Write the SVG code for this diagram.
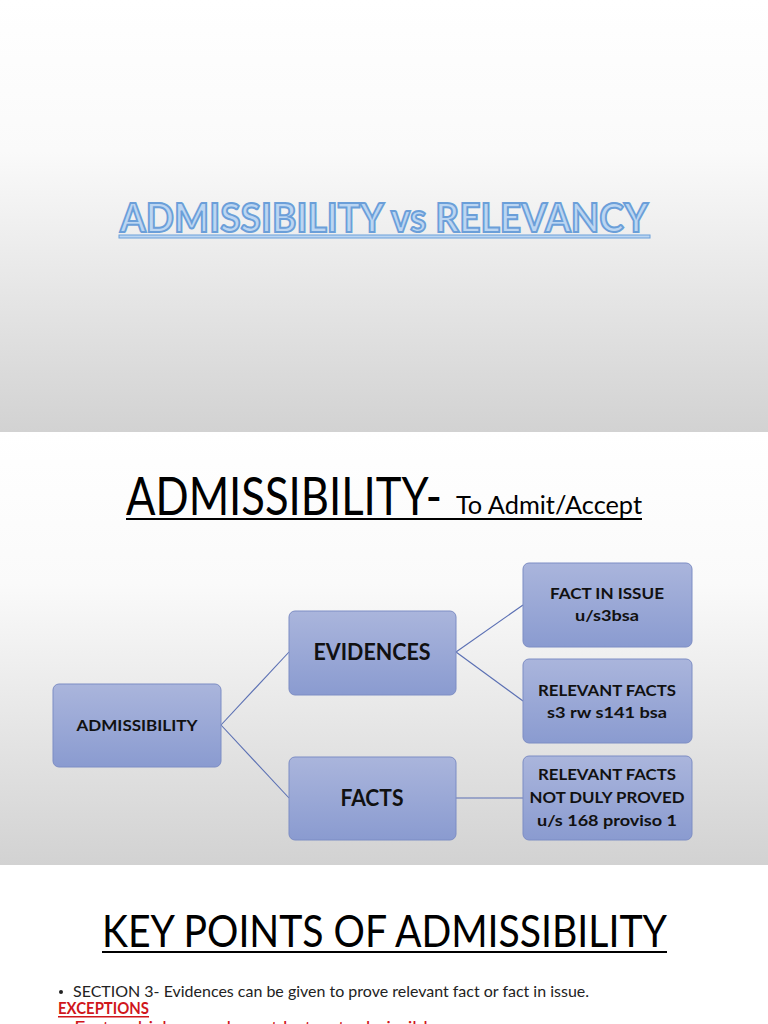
<svg xmlns="http://www.w3.org/2000/svg" width="768" height="1024" viewBox="0 0 768 1024">
<defs>
<linearGradient id="bg" x1="0" y1="0" x2="0" y2="1">
<stop offset="0" stop-color="#ffffff"/>
<stop offset="0.35" stop-color="#fafafa"/>
<stop offset="1" stop-color="#d2d2d2"/>
</linearGradient>
<linearGradient id="nodeFill" x1="0" y1="0" x2="0" y2="1">
<stop offset="0" stop-color="#aab5dc"/>
<stop offset="1" stop-color="#8a9bd0"/>
</linearGradient>
<style>
.t{font-family:Lato,"Open Sans","Liberation Sans",sans-serif}
.node rect{fill:url(#nodeFill);stroke:#7d8dc4;stroke-width:1}
.node text{font-family:Lato,"Open Sans","Liberation Sans",sans-serif;font-weight:bold;fill:#111;text-anchor:middle}
.conn line{stroke:#5a6fb3;stroke-width:1.1}
</style>
</defs>
<rect x="0" y="0" width="768" height="1024" fill="#ffffff"/>
<rect x="0" y="0" width="768" height="432" fill="url(#bg)"/>
<rect x="0" y="432" width="768" height="433" fill="url(#bg)"/>
<rect x="0" y="865" width="768" height="159" fill="#ffffff"/>

<g id="title1">
<text class="t" x="384" y="232" font-size="41" font-weight="bold" text-anchor="middle" fill="#bcd6f2" stroke="#6b9fd9" stroke-width="2" textLength="528" lengthAdjust="spacingAndGlyphs">ADMISSIBILITY vs RELEVANCY</text>
<rect x="119" y="235" width="531" height="3" fill="#bcd6f2" stroke="#6b9fd9" stroke-width="1"/>
</g>

<g id="title2">
<text class="t" x="126" y="515" font-size="52" fill="#000" textLength="316" lengthAdjust="spacingAndGlyphs">ADMISSIBILITY-</text>
<text class="t" x="456" y="514" font-size="25" fill="#000" textLength="186" lengthAdjust="spacingAndGlyphs">To Admit/Accept</text>
<rect x="126" y="518" width="516" height="2" fill="#000"/>
</g>

<g class="conn" id="connectors">
<line x1="221" y1="725" x2="289" y2="652"/>
<line x1="221" y1="725" x2="289" y2="798"/>
<line x1="456" y1="652" x2="523" y2="605"/>
<line x1="456" y1="652" x2="523" y2="701"/>
<line x1="456" y1="798" x2="523" y2="798"/>
</g>

<g class="node" id="n-admissibility">
<rect x="53" y="684" width="168" height="83" rx="6"/>
<text x="137" y="731" font-size="16" textLength="121" lengthAdjust="spacingAndGlyphs">ADMISSIBILITY</text>
</g>
<g class="node" id="n-evidences">
<rect x="289" y="611" width="167" height="84" rx="6"/>
<text x="372" y="660" font-size="22" textLength="117" lengthAdjust="spacingAndGlyphs">EVIDENCES</text>
</g>
<g class="node" id="n-facts">
<rect x="289" y="757" width="167" height="83" rx="6"/>
<text x="372" y="806" font-size="22" textLength="63" lengthAdjust="spacingAndGlyphs">FACTS</text>
</g>
<g class="node" id="n-factinissue">
<rect x="523" y="563" width="169" height="84" rx="6"/>
<text x="607" y="599" font-size="16" textLength="114" lengthAdjust="spacingAndGlyphs">FACT IN ISSUE</text>
<text x="607" y="621" font-size="16" textLength="64" lengthAdjust="spacingAndGlyphs">u/s3bsa</text>
</g>
<g class="node" id="n-relevantfacts">
<rect x="523" y="659" width="169" height="84" rx="6"/>
<text x="607" y="696" font-size="16" textLength="138" lengthAdjust="spacingAndGlyphs">RELEVANT FACTS</text>
<text x="607" y="718" font-size="16" textLength="120" lengthAdjust="spacingAndGlyphs">s3 rw s141 bsa</text>
</g>
<g class="node" id="n-notdulyproved">
<rect x="523" y="756" width="169" height="84" rx="6"/>
<text x="607" y="780" font-size="16" textLength="138" lengthAdjust="spacingAndGlyphs">RELEVANT FACTS</text>
<text x="607" y="803" font-size="16" textLength="155" lengthAdjust="spacingAndGlyphs">NOT DULY PROVED</text>
<text x="607" y="826" font-size="16" textLength="140" lengthAdjust="spacingAndGlyphs">u/s 168 proviso 1</text>
</g>

<g id="title3">
<text class="t" x="102" y="947" font-size="44" fill="#000" textLength="565" lengthAdjust="spacingAndGlyphs">KEY POINTS OF ADMISSIBILITY</text>
<rect x="102" y="951" width="565" height="2" fill="#000"/>
</g>

<g id="body3">
<circle cx="61" cy="992" r="2" fill="#222"/>
<text class="t" x="73" y="997" font-size="16" fill="#222" textLength="516" lengthAdjust="spacingAndGlyphs">SECTION 3- Evidences can be given to prove relevant fact or fact in issue.</text>
<text class="t" x="58" y="1014" font-size="17" font-weight="bold" fill="#d0161b" textLength="91" lengthAdjust="spacingAndGlyphs">EXCEPTIONS</text>
<rect x="58" y="1016" width="91" height="1.5" fill="#d0161b"/>
<text class="t" x="58" y="1034" font-size="18" fill="#d0161b" textLength="380" lengthAdjust="spacingAndGlyphs">• Facts which are relevant but not admissible</text>
</g>
</svg>
